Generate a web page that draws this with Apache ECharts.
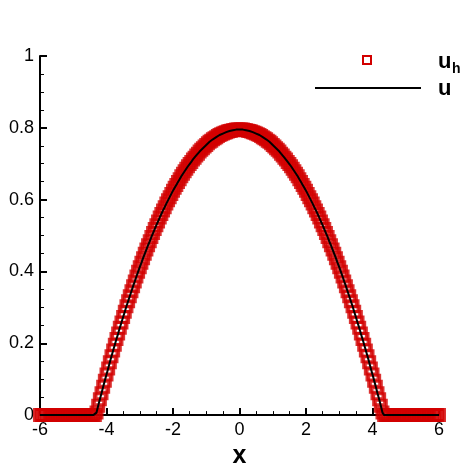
<!DOCTYPE html>
<html>
<head>
<meta charset="utf-8">
<script src="https://cdn.jsdelivr.net/npm/echarts@6/dist/echarts.min.js"></script>
<style>
  html, body { margin: 0; padding: 0; background: #fff; }
  #chart { width: 474px; height: 474px; }
</style>
</head>
<body>
<div id="chart"></div>
<script>
// x grid of the solution
var xVals = [
  -6,-5.95,-5.9,-5.85,-5.8,-5.75,-5.7,-5.65,-5.6,-5.55,
  -5.5,-5.45,-5.4,-5.35,-5.3,-5.25,-5.2,-5.15,-5.1,-5.05,
  -5,-4.95,-4.9,-4.85,-4.8,-4.75,-4.7,-4.65,-4.6,-4.55,
  -4.5,-4.45,-4.4,-4.35,-4.3,-4.25,-4.2,-4.15,-4.1,-4.05,
  -4,-3.95,-3.9,-3.85,-3.8,-3.75,-3.7,-3.65,-3.6,-3.55,
  -3.5,-3.45,-3.4,-3.35,-3.3,-3.25,-3.2,-3.15,-3.1,-3.05,
  -3,-2.95,-2.9,-2.85,-2.8,-2.75,-2.7,-2.65,-2.6,-2.55,
  -2.5,-2.45,-2.4,-2.35,-2.3,-2.25,-2.2,-2.15,-2.1,-2.05,
  -2,-1.95,-1.9,-1.85,-1.8,-1.75,-1.7,-1.65,-1.6,-1.55,
  -1.5,-1.45,-1.4,-1.35,-1.3,-1.25,-1.2,-1.15,-1.1,-1.05,
  -1,-0.95,-0.9,-0.85,-0.8,-0.75,-0.7,-0.65,-0.6,-0.55,
  -0.5,-0.45,-0.4,-0.35,-0.3,-0.25,-0.2,-0.15,-0.1,-0.05,
  0,0.05,0.1,0.15,0.2,0.25,0.3,0.35,0.4,0.45,
  0.5,0.55,0.6,0.65,0.7,0.75,0.8,0.85,0.9,0.95,
  1,1.05,1.1,1.15,1.2,1.25,1.3,1.35,1.4,1.45,
  1.5,1.55,1.6,1.65,1.7,1.75,1.8,1.85,1.9,1.95,
  2,2.05,2.1,2.15,2.2,2.25,2.3,2.35,2.4,2.45,
  2.5,2.55,2.6,2.65,2.7,2.75,2.8,2.85,2.9,2.95,
  3,3.05,3.1,3.15,3.2,3.25,3.3,3.35,3.4,3.45,
  3.5,3.55,3.6,3.65,3.7,3.75,3.8,3.85,3.9,3.95,
  4,4.05,4.1,4.15,4.2,4.25,4.3,4.35,4.4,4.45,
  4.5,4.55,4.6,4.65,4.7,4.75,4.8,4.85,4.9,4.95,
  5,5.05,5.1,5.15,5.2,5.25,5.3,5.35,5.4,5.45,
  5.5,5.55,5.6,5.65,5.7,5.75,5.8,5.85,5.9,5.95,
  6
];

// exact solution u
var uVals = [
  0,0,0,0,0,0,0,0,0,0,
  0,0,0,0,0,0,0,0,0,0,
  0,0,0,0,0,0,0,0,0,0,
  0,0,0,0,0.007,0.026,0.044,0.061,0.079,0.096,
  0.113,0.130,0.147,0.164,0.180,0.196,0.212,0.227,0.243,0.258,
  0.273,0.288,0.303,0.317,0.331,0.345,0.359,0.372,0.386,0.399,
  0.412,0.424,0.437,0.449,0.461,0.473,0.484,0.496,0.507,0.518,
  0.529,0.539,0.550,0.560,0.570,0.579,0.589,0.598,0.607,0.616,
  0.625,0.633,0.641,0.649,0.657,0.665,0.672,0.679,0.686,0.693,
  0.699,0.705,0.712,0.717,0.723,0.728,0.734,0.739,0.743,0.748,
  0.752,0.757,0.761,0.764,0.768,0.771,0.774,0.777,0.780,0.782,
  0.784,0.786,0.788,0.790,0.791,0.792,0.793,0.794,0.795,0.795,
  0.795,0.795,0.795,0.794,0.793,0.792,0.791,0.790,0.788,0.786,
  0.784,0.782,0.780,0.777,0.774,0.771,0.768,0.764,0.761,0.757,
  0.752,0.748,0.743,0.739,0.734,0.728,0.723,0.717,0.712,0.705,
  0.699,0.693,0.686,0.679,0.672,0.665,0.657,0.649,0.641,0.633,
  0.625,0.616,0.607,0.598,0.589,0.579,0.570,0.560,0.550,0.539,
  0.529,0.518,0.507,0.496,0.484,0.473,0.461,0.449,0.437,0.424,
  0.412,0.399,0.386,0.372,0.359,0.345,0.331,0.317,0.303,0.288,
  0.273,0.258,0.243,0.227,0.212,0.196,0.180,0.164,0.147,0.130,
  0.113,0.096,0.079,0.061,0.044,0.026,0.007,0,0,0,
  0,0,0,0,0,0,0,0,0,0,
  0,0,0,0,0,0,0,0,0,0,
  0,0,0,0,0,0,0,0,0,0,
  0
];

// numerical solution u_h sits on top of the exact one in the picture
var uhVals = uVals;

var xTicks = { min: -6, max: 6, step: 2 };
var yTicks = { min: 0, max: 1, step: 0.2 };

function pairs(xs, ys) {
  var out = [];
  for (var i = 0; i < xs.length; i++) {
    out.push([xs[i], ys[i]]);
  }
  return out;
}

var chart = echarts.init(document.getElementById('chart'), null, { renderer: 'canvas' });
var font = 'Liberation Sans, Arial, sans-serif';
var red = '#d20000';

function axisStyle() {
  return {
    axisLine: { show: true, onZero: false, lineStyle: { color: '#000', width: 2 } },
    axisTick: { show: true, inside: true, length: 7, lineStyle: { color: '#000', width: 2 } },
    minorTick: { show: true, splitNumber: 4, length: 4, lineStyle: { color: '#000', width: 1 } },
    splitLine: { show: false },
    axisLabel: { color: '#000', fontSize: 18, fontFamily: font, margin: 6 }
  };
}

var option = {
  animation: false,
  backgroundColor: '#fff',
  grid: { left: 40, right: 35, top: 56, bottom: 53, containLabel: false },
  xAxis: echarts.util.merge({
    type: 'value',
    min: xTicks.min, max: xTicks.max, interval: xTicks.step,
    name: 'x',
    nameLocation: 'middle',
    nameGap: 15,
    nameTextStyle: { color: '#000', fontSize: 25, fontWeight: 'bold', fontFamily: font }
  }, axisStyle(), true),
  yAxis: echarts.util.merge({
    type: 'value',
    min: yTicks.min, max: yTicks.max, interval: yTicks.step
  }, axisStyle(), true),
  series: [
    {
      name: 'u_h',
      type: 'scatter',
      data: pairs(xVals, uhVals),
      symbol: 'rect',
      symbolSize: 11,
      clip: false,
      itemStyle: { color: 'rgba(0,0,0,0)', borderColor: red, borderWidth: 3 },
      z: 2
    },
    {
      name: 'u',
      type: 'line',
      data: pairs(xVals, uVals),
      showSymbol: false,
      symbol: 'none',
      lineStyle: { color: '#000', width: 2 },
      z: 3
    }
  ],
  graphic: [
    { type: 'rect', shape: { x: 363, y: 56, width: 8, height: 8 },
      style: { fill: 'none', stroke: red, lineWidth: 2 } },
    { type: 'text', x: 438, y: 62,
      style: { text: 'u', fill: '#000', font: 'bold 22px ' + font, verticalAlign: 'middle' } },
    { type: 'text', x: 452, y: 69,
      style: { text: 'h', fill: '#000', font: 'bold 14px ' + font, verticalAlign: 'middle' } },
    { type: 'line', shape: { x1: 315, y1: 88, x2: 421, y2: 88 },
      style: { stroke: '#000', lineWidth: 2 } },
    { type: 'text', x: 438, y: 89,
      style: { text: 'u', fill: '#000', font: 'bold 22px ' + font, verticalAlign: 'middle' } }
  ]
};

chart.setOption(option);
</script>
</body>
</html>
